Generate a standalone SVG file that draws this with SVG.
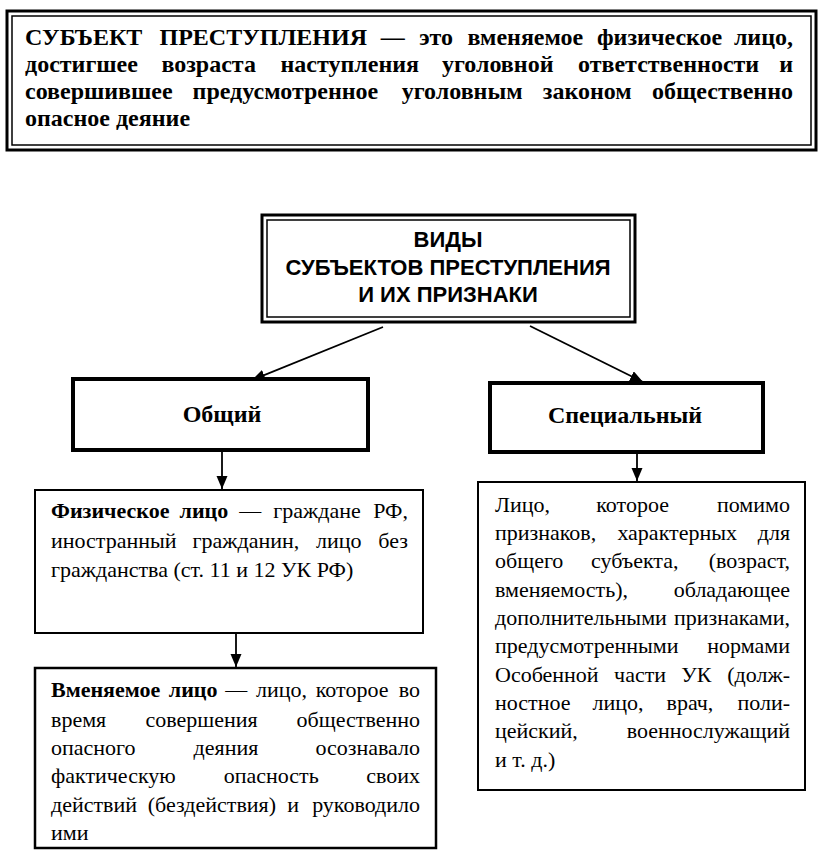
<svg xmlns="http://www.w3.org/2000/svg" width="822" height="860" viewBox="0 0 822 860">
<style>
.bx{fill:#fff;stroke:#000}
.t{font-family:"Liberation Serif","Times New Roman",serif;font-weight:bold;font-size:24px;fill:#000}
.h{font-family:"Liberation Sans",Arial,sans-serif;font-weight:bold;font-size:22px;fill:#000;text-anchor:middle}
.k{font-family:"Liberation Serif","Times New Roman",serif;font-weight:bold;font-size:24px;fill:#000;text-anchor:middle}
.b{font-family:"Liberation Serif","Times New Roman",serif;font-size:22px;fill:#000}
.bb{font-weight:bold}
.e{text-anchor:end}
.c{stroke:#000;stroke-width:1.8;fill:none}
</style>
<defs>
<marker id="ah" markerUnits="userSpaceOnUse" markerWidth="14" markerHeight="12" refX="13" refY="5.5" orient="auto">
<path d="M0,0 L13,5.5 L0,11 z" fill="#000"/>
</marker>
</defs>
<rect width="822" height="860" fill="#fff"/>

<g id="definition">
<rect class="bx" x="7" y="11" width="809" height="139" stroke-width="3"/>
<rect class="bx" x="12" y="16" width="799" height="129" stroke-width="1.5"/>
<text class="t" y="45"><tspan x="25">СУБЪЕКТ</tspan><tspan x="159.5">ПРЕСТУПЛЕНИЯ</tspan><tspan x="380.7">—</tspan><tspan x="419.2">это</tspan><tspan x="467.5">вменяемое</tspan><tspan x="597">физическое</tspan><tspan x="793" class="e">лицо,</tspan></text>
<text class="t" y="72"><tspan x="25">достигшее</tspan><tspan x="161.4">возраста</tspan><tspan x="280.5">наступления</tspan><tspan x="442">уголовной</tspan><tspan x="578">ответственности</tspan><tspan x="793" class="e">и</tspan></text>
<text class="t" y="99"><tspan x="25">совершившее</tspan><tspan x="192.6">предусмотренное</tspan><tspan x="401.8">уголовным</tspan><tspan x="542.8">законом</tspan><tspan x="793" class="e">общественно</tspan></text>
<text class="t" y="126" x="25">опасное деяние</text>
</g>

<g id="types">
<rect class="bx" x="262" y="215" width="373" height="107" stroke-width="3"/>
<rect class="bx" x="267" y="220" width="363" height="97" stroke-width="1.5"/>
<text class="h" x="448" y="247">ВИДЫ</text>
<text class="h" x="448" y="275">СУБЪЕКТОВ ПРЕСТУПЛЕНИЯ</text>
<text class="h" x="448" y="302">И ИХ ПРИЗНАКИ</text>
</g>

<g id="general">
<rect class="bx" x="73" y="379" width="295" height="71" stroke-width="4"/>
<text class="k" x="222" y="422">Общий</text>
</g>

<g id="special">
<rect class="bx" x="490" y="383" width="273" height="69" stroke-width="4"/>
<text class="k" x="625" y="423">Специальный</text>
</g>

<g id="physical">
<rect class="bx" x="35" y="490" width="388" height="143" stroke-width="2"/>
<text class="b" y="518"><tspan x="51" class="bb">Физическое</tspan><tspan x="179.6" class="bb">лицо</tspan><tspan x="239.3">—</tspan><tspan x="273.3">граждане</tspan><tspan x="408" class="e">РФ,</tspan></text>
<text class="b" y="548"><tspan x="51">иностранный</tspan><tspan x="192.5">гражданин,</tspan><tspan x="316">лицо</tspan><tspan x="408" class="e">без</tspan></text>
<text class="b" y="577" x="51">гражданства (ст. 11 и 12 УК РФ)</text>
</g>

<g id="sane">
<rect class="bx" x="35" y="668" width="401" height="180" stroke-width="2.5"/>
<text class="b" y="697"><tspan x="51" class="bb">Вменяемое</tspan><tspan x="168.8" class="bb">лицо</tspan><tspan x="225.2">—</tspan><tspan x="256">лицо,</tspan><tspan x="315.8">которое</tspan><tspan x="420" class="e">во</tspan></text>
<text class="b" y="727"><tspan x="51">время</tspan><tspan x="145.5">совершения</tspan><tspan x="420" class="e">общественно</tspan></text>
<text class="b" y="755"><tspan x="51">опасного</tspan><tspan x="193.6">деяния</tspan><tspan x="420" class="e">осознавало</tspan></text>
<text class="b" y="783"><tspan x="51">фактическую</tspan><tspan x="223.7">опасность</tspan><tspan x="420" class="e">своих</tspan></text>
<text class="b" y="812"><tspan x="51">действий</tspan><tspan x="147.8">(бездействия)</tspan><tspan x="287.3">и</tspan><tspan x="420" class="e">руководило</tspan></text>
<text class="b" y="840" x="51">ими</text>
</g>

<g id="special-desc">
<rect class="bx" x="478" y="482" width="327" height="308" stroke-width="2"/>
<text class="b" y="512"><tspan x="495">Лицо,</tspan><tspan x="596.3">которое</tspan><tspan x="790" class="e">помимо</tspan></text>
<text class="b" y="540"><tspan x="495">признаков,</tspan><tspan x="617.4">характерных</tspan><tspan x="790" class="e">для</tspan></text>
<text class="b" y="568"><tspan x="495">общего</tspan><tspan x="591">субъекта,</tspan><tspan x="790" class="e">(возраст,</tspan></text>
<text class="b" y="597"><tspan x="495">вменяемость),</tspan><tspan x="790" class="e">обладающее</tspan></text>
<text class="b" y="625"><tspan x="495">дополнительными</tspan><tspan x="790" class="e">признаками,</tspan></text>
<text class="b" y="653"><tspan x="495">предусмотренными</tspan><tspan x="790" class="e">нормами</tspan></text>
<text class="b" y="682"><tspan x="495">Особенной</tspan><tspan x="614.1">части</tspan><tspan x="681.3">УК</tspan><tspan x="790" class="e">(долж-</tspan></text>
<text class="b" y="710"><tspan x="495">ностное</tspan><tspan x="592.6">лицо,</tspan><tspan x="666.5">врач,</tspan><tspan x="790" class="e">поли-</tspan></text>
<text class="b" y="738"><tspan x="495">цейский,</tspan><tspan x="790" class="e">военнослужащий</tspan></text>
<text class="b" y="767" x="495">и т. д.)</text>
</g>

<g id="connectors">
<line class="c" x1="383" y1="327" x2="252" y2="380" marker-end="url(#ah)"/>
<line class="c" x1="530" y1="326" x2="643" y2="382" marker-end="url(#ah)"/>
<line class="c" x1="222" y1="452" x2="222" y2="489" marker-end="url(#ah)"/>
<line class="c" x1="637" y1="454" x2="637" y2="481" marker-end="url(#ah)"/>
<line class="c" x1="236" y1="634" x2="236" y2="667" marker-end="url(#ah)"/>
</g>
</svg>
